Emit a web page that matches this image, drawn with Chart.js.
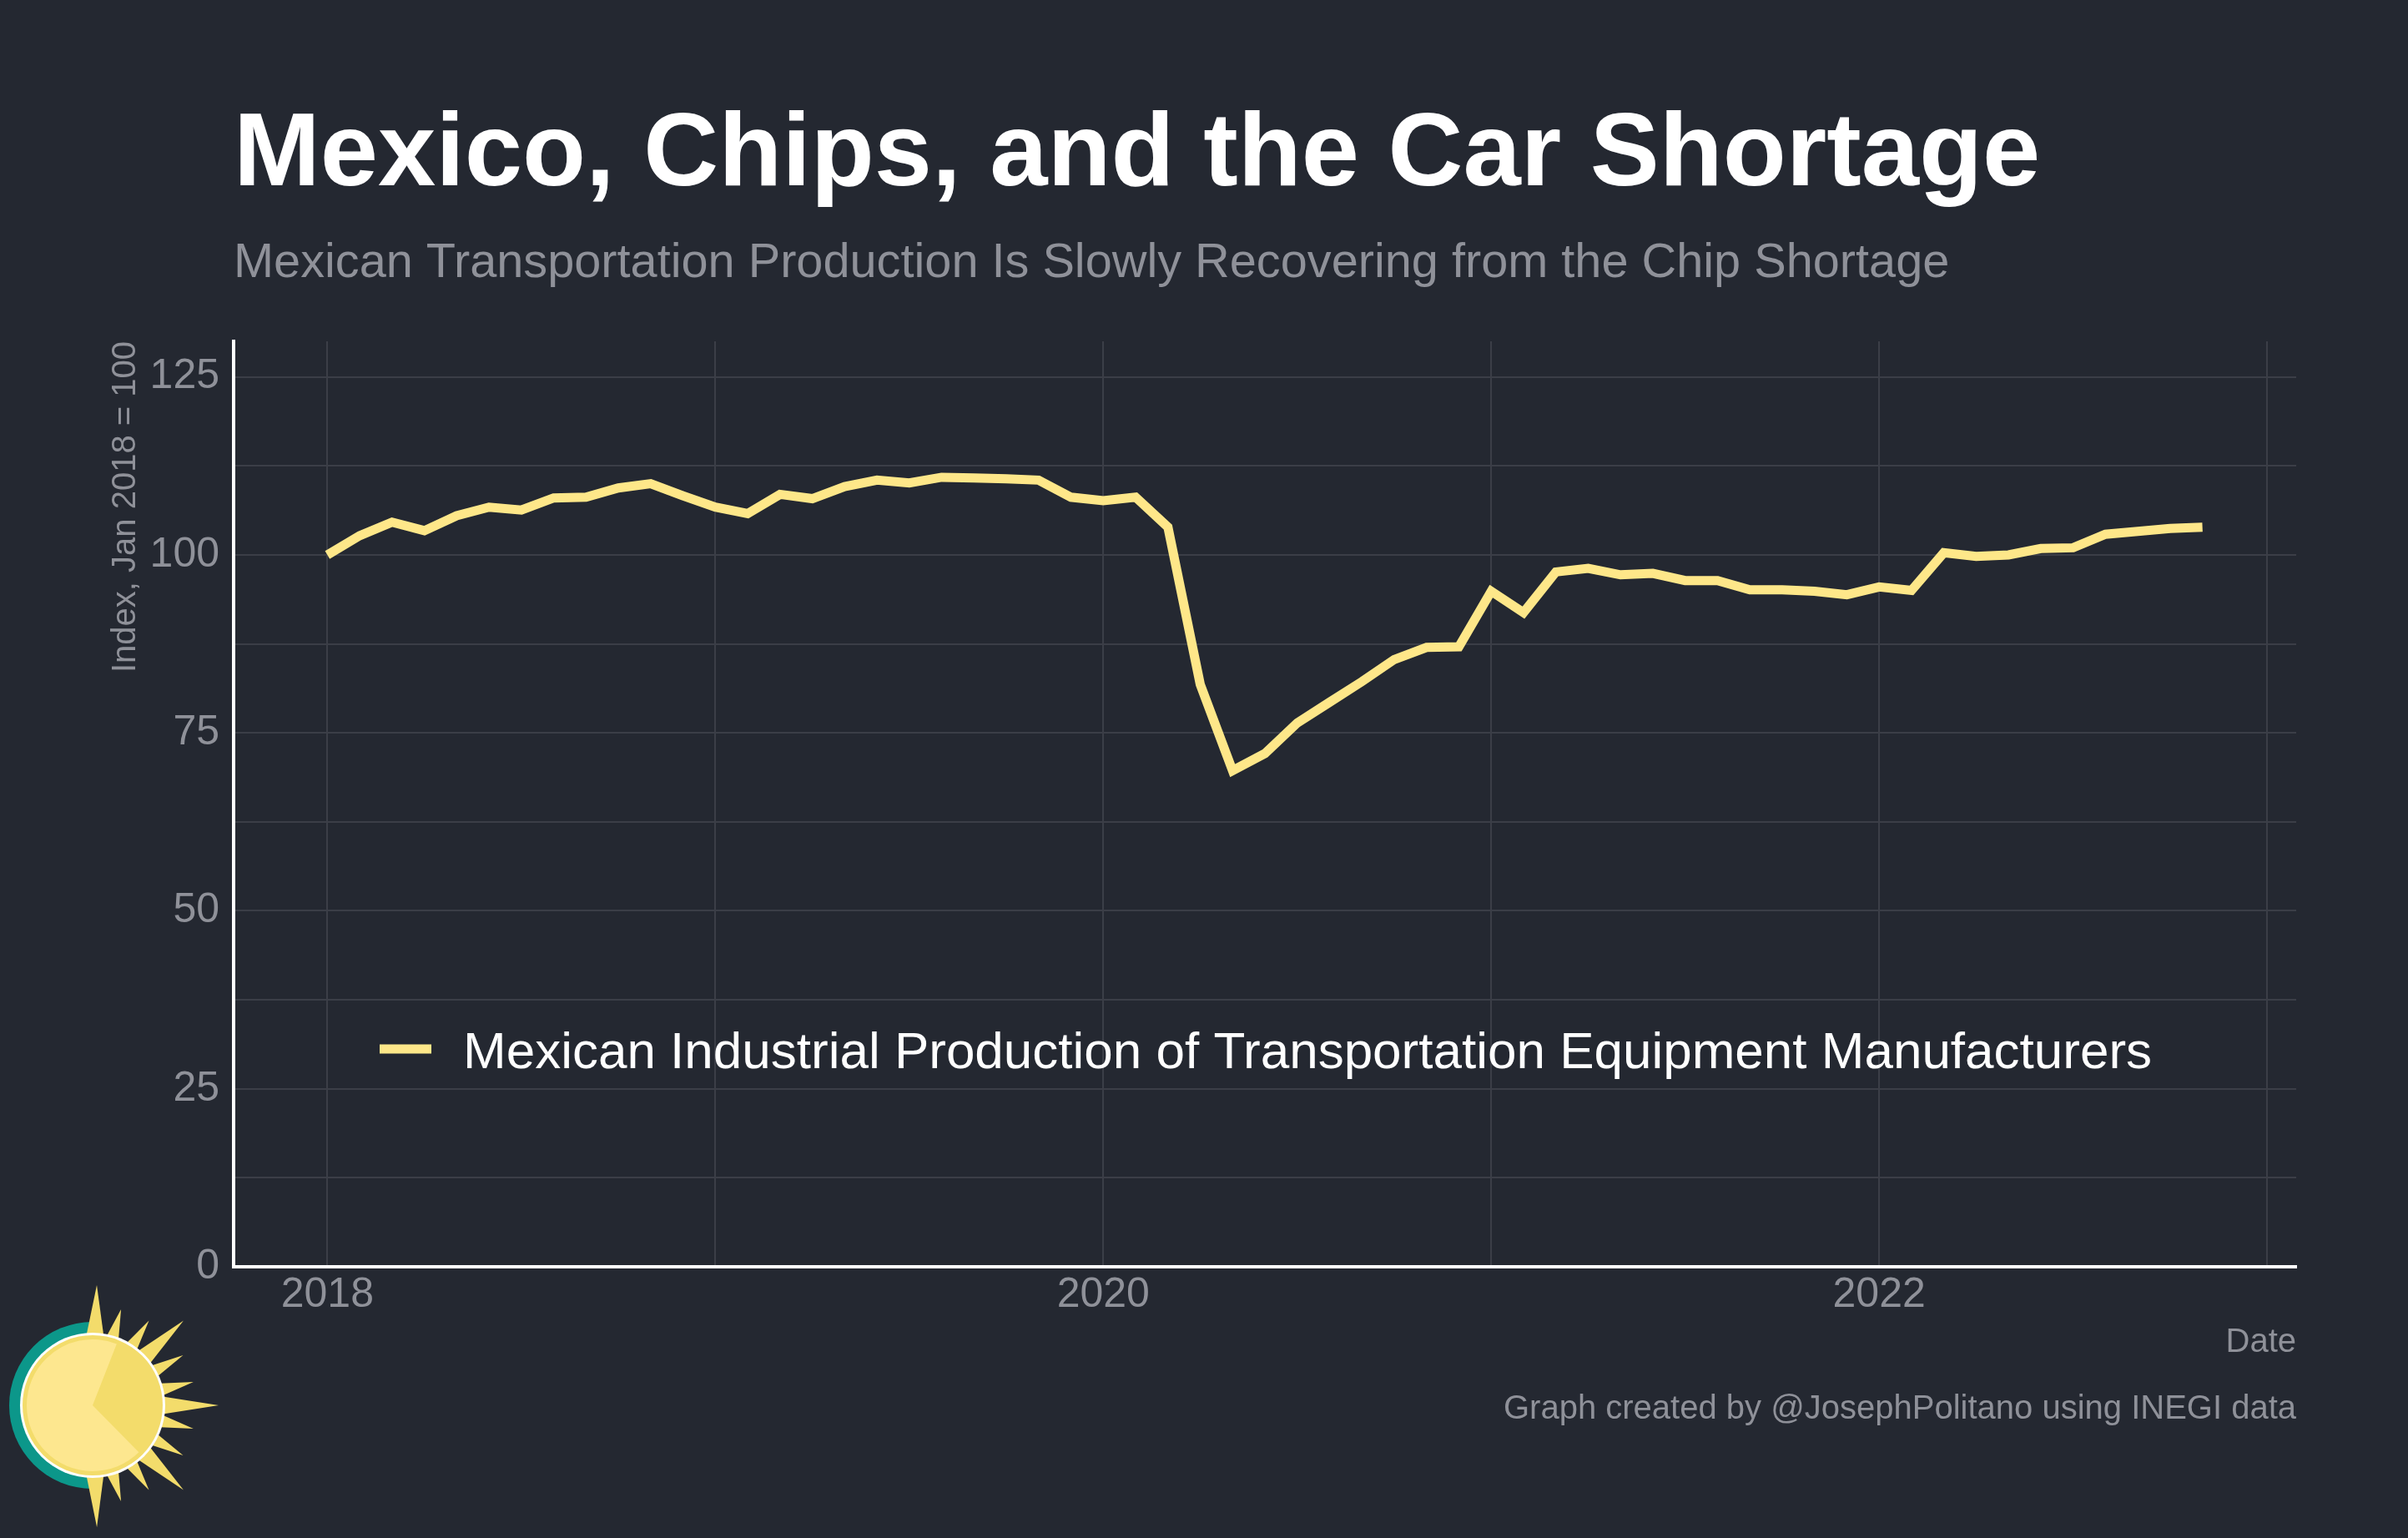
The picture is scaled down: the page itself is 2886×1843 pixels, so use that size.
<!DOCTYPE html>
<html>
<head>
<meta charset="utf-8">
<title>Mexico, Chips, and the Car Shortage</title>
<script src="https://cdn.jsdelivr.net/npm/chart.js@4.4.1/dist/chart.umd.min.js"></script>
<style>
  html, body { margin: 0; padding: 0; background: #242831; }
  canvas { display: block; }
</style>
</head>
<body>
<canvas id="chart" width="2886" height="1843"></canvas>
<script>
// Monthly index, Jan 2018 = 100, from Jan 2018 to Nov 2022
const startYear = 2018;
const productionIndex = [
    100.0, 102.7, 104.6, 103.4, 105.5, 106.7, 106.3, 108.0, 108.1, 109.4, 110.0, 108.3,
    106.7, 105.8, 108.5, 107.9, 109.6, 110.5, 110.1, 110.9, 110.8, 110.7, 110.5, 108.1,
    107.6, 108.1, 103.9, 81.8, 69.7, 72.1, 76.4, 79.3, 82.2, 85.3, 87.0, 87.1,
    94.9, 91.9, 97.6, 98.1, 97.2, 97.4, 96.4, 96.4, 95.1, 95.1, 94.9, 94.4,
    95.5, 95.0, 100.3, 99.8, 100.0, 100.9, 101.0, 102.9, 103.3, 103.7, 103.9
];

// y gridlines every 12.5, labels only on multiples of 25
const yGridValues = [0, 12.5, 25, 37.5, 50, 62.5, 75, 87.5, 100, 112.5, 125];
const yLabelValues = [0, 25, 50, 75, 100, 125];
// x gridlines every year, labels every other year
const gridYears = [2018, 2019, 2020, 2021, 2022, 2023];
const labelYears = [2018, 2020, 2022];

const seriesLabel = 'Mexican Industrial Production of Transportation Equipment Manufacturers';
const titleText = 'Mexico, Chips, and the Car Shortage';
const subtitleText = 'Mexican Transportation Production Is Slowly Recovering from the Chip Shortage';
const yTitleText = 'Index, Jan 2018 = 100';
const xTitleText = 'Date';
const captionText = 'Graph created by @JosephPolitano using INEGI data';

const FONT = '"Liberation Sans", Arial, Helvetica, sans-serif';
const colors = {
    bg: '#242831',
    line: '#fee789',
    grid: '#3b3e47',
    axis: '#ffffff',
    muted: '#8f9199',
    teal: '#0c978a',
    sunDark: '#f3dc6b',
    sunLight: '#fde78f'
};

function drawLogo(ctx) {
    const cx = 111, cy = 1684;
    const deg = Math.PI / 180;

    // teal half disc behind the sun
    ctx.fillStyle = colors.teal;
    ctx.beginPath();
    ctx.arc(cx, cy, 100, Math.PI / 2, Math.PI * 1.5);
    ctx.closePath();
    ctx.fill();

    // rays: [angle, length, half width]
    const rays = [
        [-88, 144, 8], [-73.5, 120, 6], [-56.4, 122, 6], [-43, 149, 8], [-29, 124, 6], [-13, 124, 6],
        [0, 151, 8], [13, 124, 6], [29, 124, 6], [43, 149, 8], [56.4, 122, 6], [73.5, 120, 6], [88, 146, 8]
    ];
    ctx.fillStyle = colors.sunDark;
    rays.forEach(([a, len, hw]) => {
        ctx.beginPath();
        ctx.moveTo(cx + 80 * Math.cos((a - hw) * deg), cy + 80 * Math.sin((a - hw) * deg));
        ctx.lineTo(cx + len * Math.cos(a * deg), cy + len * Math.sin(a * deg));
        ctx.lineTo(cx + 80 * Math.cos((a + hw) * deg), cy + 80 * Math.sin((a + hw) * deg));
        ctx.closePath();
        ctx.fill();
    });

    ctx.fillStyle = '#ffffff';
    ctx.beginPath(); ctx.arc(cx, cy, 87, 0, Math.PI * 2); ctx.fill();
    ctx.fillStyle = colors.sunDark;
    ctx.beginPath(); ctx.arc(cx, cy, 84, 0, Math.PI * 2); ctx.fill();
    ctx.fillStyle = colors.sunLight;
    ctx.beginPath();
    ctx.moveTo(cx, cy);
    ctx.arc(cx, cy, 79, 45.5 * deg, 291.4 * deg);
    ctx.closePath();
    ctx.fill();
}

const decorPlugin = {
    id: 'decor',
    beforeDraw(chart) {
        const ctx = chart.ctx;
        ctx.save();
        ctx.fillStyle = colors.bg;
        ctx.fillRect(0, 0, chart.width, chart.height);
        ctx.restore();
    },
    afterDraw(chart) {
        const ctx = chart.ctx;
        const area = chart.chartArea;
        ctx.save();
        ctx.textBaseline = 'alphabetic';

        // title and subtitle
        ctx.textAlign = 'left';
        ctx.fillStyle = '#ffffff';
        ctx.font = `bold 124.5px ${FONT}`;
        ctx.fillText(titleText, 280, 222);
        ctx.fillStyle = colors.muted;
        ctx.font = `57.7px ${FONT}`;
        ctx.fillText(subtitleText, 280, 332);

        // y axis title, top aligned
        ctx.save();
        ctx.translate(151, area.top);
        ctx.rotate(-Math.PI / 2);
        ctx.textAlign = 'right';
        ctx.textBaseline = 'middle';
        ctx.font = `40px ${FONT}`;
        ctx.fillText(yTitleText, 0, 0);
        ctx.restore();

        // x axis title and caption
        ctx.textAlign = 'right';
        ctx.font = `40px ${FONT}`;
        ctx.fillText(xTitleText, area.right, 1620);
        ctx.fillText(captionText, area.right, 1700);

        // legend inside the plot
        ctx.strokeStyle = colors.line;
        ctx.lineWidth = 11;
        ctx.lineCap = 'butt';
        ctx.beginPath();
        ctx.moveTo(455, 1257);
        ctx.lineTo(517, 1257);
        ctx.stroke();
        ctx.textAlign = 'left';
        ctx.fillStyle = '#ffffff';
        ctx.font = `62px ${FONT}`;
        ctx.fillText(seriesLabel, 555, 1280);

        drawLogo(ctx);
        ctx.restore();
    }
};

const points = productionIndex.map((v, i) => ({ x: i, y: v }));

new Chart(document.getElementById('chart').getContext('2d'), {
    type: 'line',
    data: {
        datasets: [{
            label: seriesLabel,
            data: points,
            borderColor: colors.line,
            borderWidth: 11,
            pointRadius: 0,
            tension: 0,
            borderCapStyle: 'butt',
            borderJoinStyle: 'miter'
        }]
    },
    options: {
        responsive: false,
        animation: false,
        devicePixelRatio: 1,
        layout: { padding: { top: 409, right: 134, bottom: 0, left: 0 } },
        plugins: { legend: { display: false }, tooltip: { enabled: false } },
        scales: {
            x: {
                type: 'linear',
                min: -2.9,
                max: 60.9,
                afterBuildTicks: (scale) => { scale.ticks = gridYears.map(y => ({ value: (y - startYear) * 12 })); },
                afterFit: (scale) => { scale.height = 325; },
                ticks: {
                    autoSkip: false,
                    maxRotation: 0,
                    padding: 4,
                    color: colors.muted,
                    font: { family: FONT, size: 50 },
                    callback: (v) => {
                        const yr = startYear + v / 12;
                        return labelYears.includes(yr) ? String(yr) : '';
                    }
                },
                grid: { color: colors.grid, lineWidth: 2, drawTicks: false },
                border: { display: true, color: colors.axis, width: 4 }
            },
            y: {
                min: 0,
                max: 130,
                afterBuildTicks: (scale) => { scale.ticks = yGridValues.map(v => ({ value: v })); },
                afterFit: (scale) => { scale.width = 280; },
                ticks: {
                    padding: 17,
                    color: colors.muted,
                    font: { family: FONT, size: 50 },
                    callback: (v) => yLabelValues.includes(v) ? String(v) : ''
                },
                grid: { color: colors.grid, lineWidth: 2, drawTicks: false },
                border: { display: true, color: colors.axis, width: 4 }
            }
        }
    },
    plugins: [decorPlugin]
});
</script>
</body>
</html>
